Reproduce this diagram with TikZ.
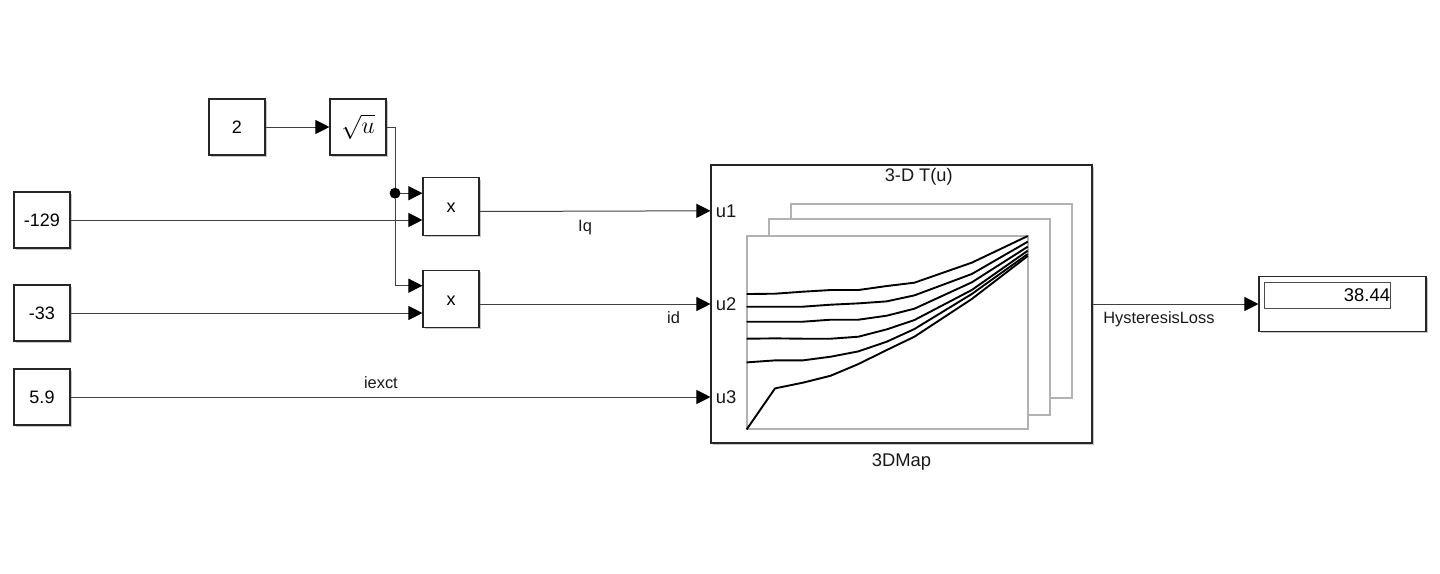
\documentclass[tikz,border=0pt]{standalone}
\usepackage{fontspec}
\setmainfont{Liberation Sans}
\usetikzlibrary{arrows.meta,positioning,calc,shadows}
\tikzset{
  ln/.style    = { draw, fill=black, circle, inner sep=0pt, minimum size=5pt},
  block/.style = { draw=black!85, line width=.55pt, fill=white, inner sep=0pt, font=\fontsize{9}{11}\selectfont,
    minimum width=28pt, minimum height=28pt, drop shadow={shadow xshift=.8pt, shadow yshift=-.8pt, opacity=.4, fill=black!55} },
  lbl/.style   = { inner sep=0pt, text=black!90, font=\fontsize{8.2}{10}\selectfont },
  conn/.style  = { draw=black!75, line width=.5pt },
  gframe/.style= { draw=black!30, line width=.95pt, fill=white },
  crv/.style   = { draw=black, line width=.95pt, line join=round }
}
\begin{document}
\begin{tikzpicture}[x=.5pt,y=-.5pt,on grid,>={Triangle[length=7pt,width=7pt,color=black]}]
    \useasboundingbox (0,0) rectangle (1440,573);
    % sources
    \node[block] (two) at (237,127) {2};
    \node[block, right=60.5pt of two] (root) {\fontsize{12.4}{14}\selectfont$\sqrt{u}$};
    \node[block] (c129) at (42,220) {-129};
    \node[block, below=46.5pt of c129] (c33) {-33};
    \node[block, below=42pt of c33] (c59) {5.9};
    % products
    \node[block, minimum height=28.6pt, text height=6pt] (x1) at (451,206.5) {x};
    \node[block, minimum height=28.6pt, text height=6pt, below=46.3pt of x1] (x2) {x};
    % map and display
    \node[block, minimum width=190.5pt, minimum height=139pt] (map) at (901.5,304) {};
    \node[block, minimum width=83.5pt, minimum height=27.5pt, right=220.5pt of map] (disp) {};
    \node[draw=black!70, line width=.5pt, minimum height=13pt, text width=62.5pt, align=right, inner xsep=.2pt, inner ysep=0pt,
      font=\fontsize{9.2}{10}\selectfont] (val) at (1327.5,295) {38.44};
    % stacked table frames
    \draw[gframe] (791,204.3) rectangle (1072.3,398);
    \draw[gframe] (769,219.3) rectangle (1050,415);
    \draw[gframe] (746.7,236) rectangle (1027.7,429.3);
    \begin{scope}[shift={(700,150)},x=.1667pt,y=-.1667pt]
      \draw[crv] plot coordinates {(140,432) (225,431) (308,425) (392,420) (475,420) (560,408) (643,398) (815,338) (983,258)};
      \draw[crv] plot coordinates {(140,470) (225,470) (308,470) (392,464) (475,460) (560,454) (643,436) (815,372) (983,275)};
      \draw[crv] plot coordinates {(140,515) (225,515) (308,515) (392,509) (475,509) (560,497) (643,476) (815,397) (983,290)};
      \draw[crv] plot coordinates {(140,566) (225,565) (308,566) (392,566) (475,560) (560,538) (643,510) (815,420) (983,302)};
      \draw[crv] plot coordinates {(140,637) (225,631) (308,631) (392,620) (475,604) (560,575) (643,537) (815,432) (983,312)};
      \draw[crv] plot coordinates {(140,838) (225,715) (308,698) (392,677) (475,642) (560,600) (643,560) (815,447) (983,318)};
    \end{scope}
    % map texts
    \node[lbl, font=\fontsize{9.1}{11}\selectfont] (title) at (918.7,177) {3-D T(u)};
    \node[lbl, font=\fontsize{9.2}{11}\selectfont, below=4.8pt of map.south] (mapname) {3DMap};
    % ports
    \coordinate (mapu1) at ($(map.west)+(0,46.6pt)$);
    \coordinate (x1out) at ($(x1.east)+(0,-2.5pt)$);
    \coordinate (x2up) at ($(x2.west)+(0,6.7pt)$);
    \node[lbl, font=\fontsize{9.2}{11}\selectfont, right=2.5pt of mapu1] (u1) {u1};
    \node[lbl, font=\fontsize{9.2}{11}\selectfont, right=2.5pt of map.west] (u2) {u2};
    \node[lbl, font=\fontsize{9.2}{11}\selectfont] (u3) at (u2 |- c59) {u3};
    \node[ln] (j0) at ($(root.east)+(4.25pt,-33.1pt)$) {};
    % connectors
    \path[->,conn] (two) edge (root);
    \draw[conn] (root.east) -| (j0);
    \path[->,conn] (j0) edge (x1.west |- j0);
    \draw[->,conn] (j0) |- (x2up);
    \path[->,conn] (c129) edge (x1.west |- c129);
    \path[->,conn] (c33) edge (x2.west |- c33);
    \draw[->,conn] (x1out) -- node[lbl, pos=.457, below=4.5pt] {Iq} (mapu1);
    \draw[->,conn] (x2.east |- map.west) -- node[lbl, pos=.84, below=3.5pt] {id} (map.west);
    \draw[->,conn] (c59) -- node[lbl, pos=.485, above=4pt] {iexct} (map.west |- c59);
    \draw[->,conn] (map.east) -- node[lbl, pos=.40, below=3.5pt] {HysteresisLoss} (disp.west |- map.east);
  \end{tikzpicture}
\end{document}
